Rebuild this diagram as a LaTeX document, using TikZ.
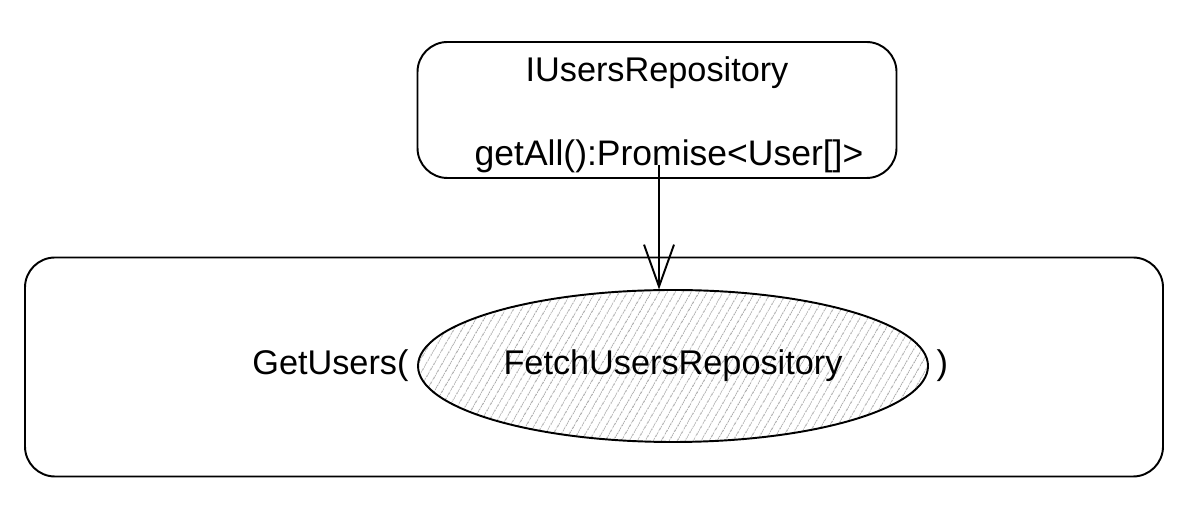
\documentclass[tikz,border=0pt]{standalone}
\usepackage{fontspec}
\setmainfont{Liberation Sans}
\usetikzlibrary{positioning, shapes.geometric, patterns.meta, arrows.meta}

\begin{document}
\begin{tikzpicture}[line width=1.1pt,
        box/.style={draw, rounded corners=0.6cm, inner sep=0pt},
        txt/.style={inner sep=0pt, font=\fontsize{19.5}{23}\selectfont}]
        \useasboundingbox (0,0) rectangle (24,10.46);

        \node[box, minimum width=9.58cm, minimum height=2.72cm] (repo) at (13.14,8.26) {};
        \node[txt] (title) at (13.14,9.0) {IUsersRepository};
        \node[txt, font=\fontsize{20.2}{24}\selectfont] (sig) at (13.38,7.34) {getAll():Promise<User[]>};

        \node[box, minimum width=22.76cm, minimum height=4.38cm] (usecase) at (11.88,3.12) {};
        \node[txt, draw, ellipse, minimum width=10.2cm, minimum height=3.04cm,
            pattern={Lines[angle=60, distance=4pt, line width=0.6pt]}, pattern color=black!32] (fetch) at (13.46,3.14) {};
        \node[txt] (fetchtext) at (fetch.center) {FetchUsersRepository};
        \node[txt, left=0.16cm of fetch] (getusers) {GetUsers(};
        \node[txt, right=0.14cm of fetch] (close) {)};

        \coordinate (src) at (13.18,7.16);
        \draw[-{Straight Barb[length=0.84cm, width=0.6cm]}] (src) -- (src |- fetch.north);
    \end{tikzpicture}
\end{document}
